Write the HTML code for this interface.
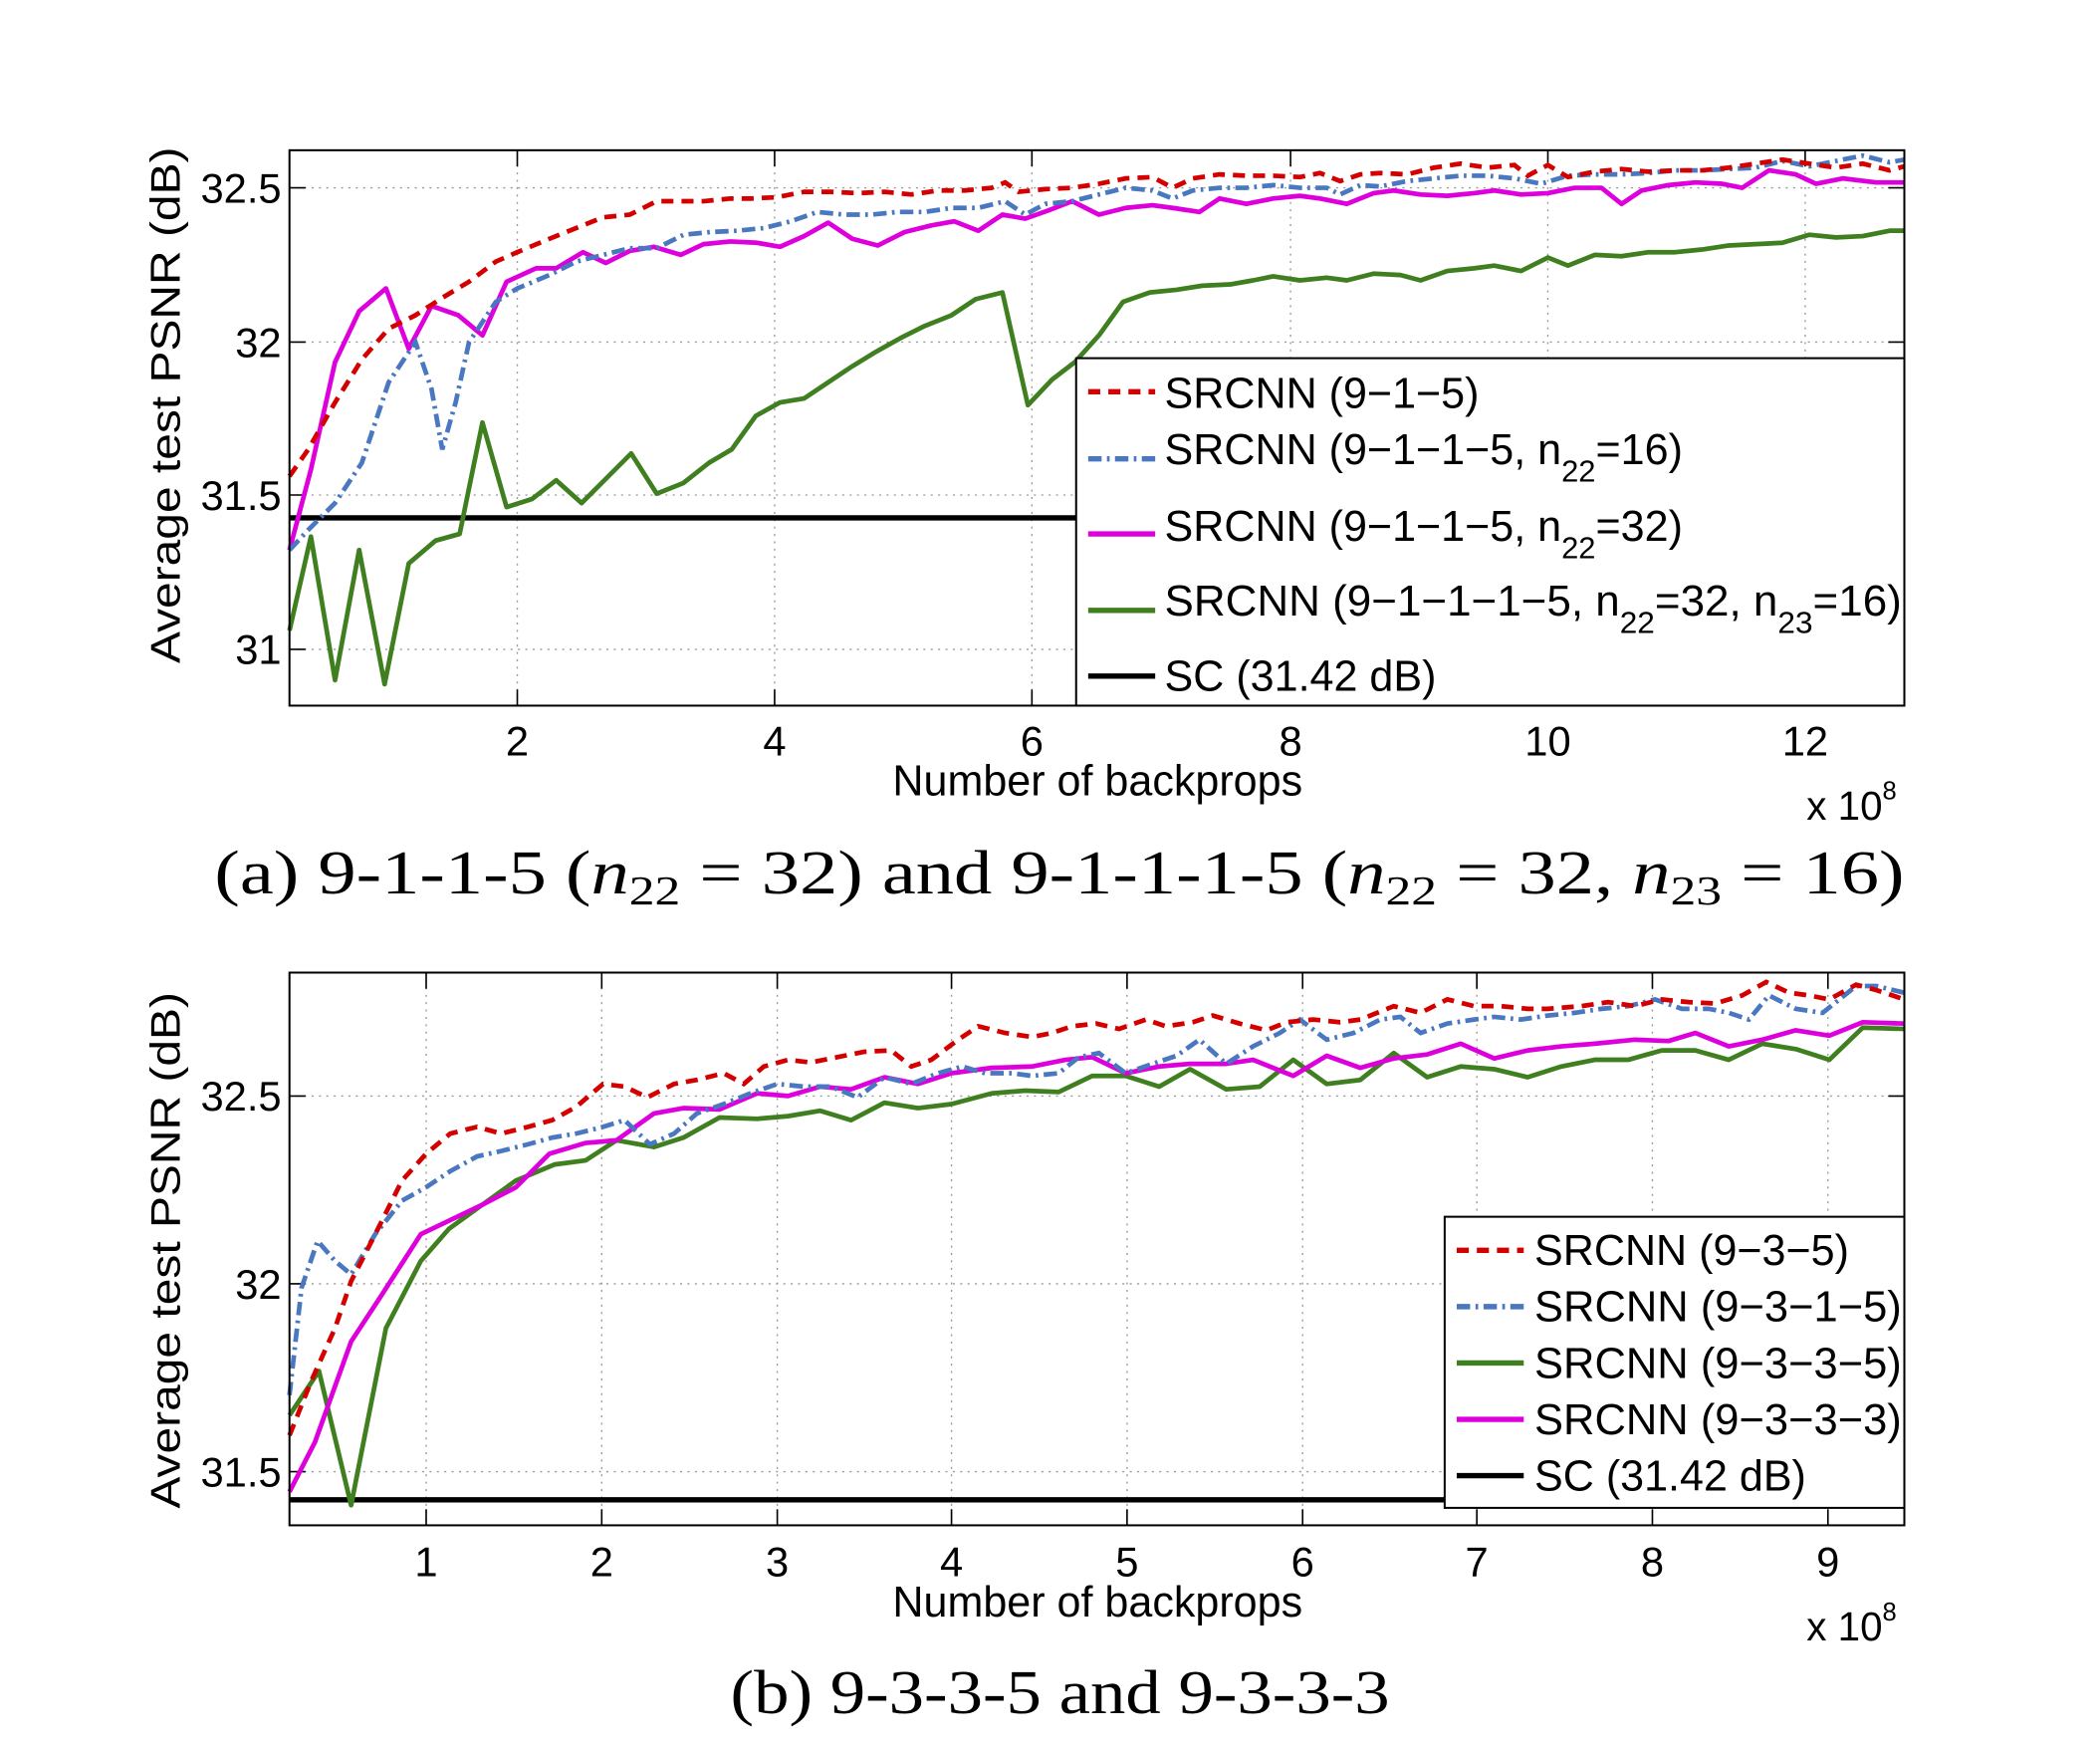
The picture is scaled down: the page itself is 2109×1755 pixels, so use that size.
<!DOCTYPE html>
<html><head><meta charset="utf-8"><style>
html,body{margin:0;padding:0;background:#fff}
svg{display:block}
text{font-family:"Liberation Sans",sans-serif;fill:#000}
.serif{font-family:"Liberation Serif",serif}
</style></head><body>
<svg width="2109" height="1755" viewBox="0 0 1567 1303" preserveAspectRatio="none" xmlns="http://www.w3.org/2000/svg">
<rect width="1567" height="1303" fill="#fff"/>
<!-- ============ PLOT A ============ -->
<g stroke="#999" stroke-width="1" stroke-dasharray="1.5,4" fill="none">
<line x1="216" y1="140" x2="1421" y2="140"/><line x1="216" y1="255" x2="1421" y2="255"/>
<line x1="216" y1="369" x2="1421" y2="369"/><line x1="216" y1="484" x2="1421" y2="484"/>
<line x1="386" y1="112" x2="386" y2="526"/><line x1="578" y1="112" x2="578" y2="526"/>
<line x1="770" y1="112" x2="770" y2="526"/><line x1="963" y1="112" x2="963" y2="526"/>
<line x1="1155" y1="112" x2="1155" y2="526"/><line x1="1347" y1="112" x2="1347" y2="526"/>
</g>
<g stroke="#000" stroke-width="1.2">
<line x1="386" y1="526" x2="386" y2="514"/><line x1="578" y1="526" x2="578" y2="514"/><line x1="770" y1="526" x2="770" y2="514"/><line x1="963" y1="526" x2="963" y2="514"/><line x1="1155" y1="526" x2="1155" y2="514"/><line x1="1347" y1="526" x2="1347" y2="514"/>
<line x1="386" y1="112" x2="386" y2="124"/><line x1="578" y1="112" x2="578" y2="124"/><line x1="770" y1="112" x2="770" y2="124"/><line x1="963" y1="112" x2="963" y2="124"/><line x1="1155" y1="112" x2="1155" y2="124"/><line x1="1347" y1="112" x2="1347" y2="124"/>
<line x1="216" y1="140" x2="228" y2="140"/><line x1="216" y1="255" x2="228" y2="255"/><line x1="216" y1="369" x2="228" y2="369"/><line x1="216" y1="484" x2="228" y2="484"/>
<line x1="1421" y1="140" x2="1409" y2="140"/><line x1="1421" y1="255" x2="1409" y2="255"/>
</g>
<line x1="216" y1="386" x2="803" y2="386" stroke="#000" stroke-width="4"/>
<polyline fill="none" stroke="#3f7f1f" stroke-width="3.5" stroke-linejoin="round" points="216,470 232,400 250,507 268,410 287,510 305,420 325,403 343,398 360,315 378,378 397,372 415,358 434,375 453,356 471,338 490,368 510,360 529,345 546,335 564,310 582,300 600,297 618,285 636,273 654,262 672,252 690,243 710,235 728,223 748,218 767,302 785,283 802,270 820,250 838,225 858,218 878,216 897,213 918,212 935,209 950,206 970,209 990,207 1005,209 1025,204 1045,205 1060,209 1080,202 1100,200 1115,198 1135,202 1155,192 1170,198 1190,190 1210,191 1230,188 1250,188 1270,186 1290,183 1310,182 1330,181 1350,175 1370,177 1390,176 1410,172 1421,172"/>
<polyline fill="none" stroke="#dd00dd" stroke-width="3.5" stroke-linejoin="round" points="216,410 232,350 250,270 268,232 288,215 305,260 322,228 342,235 360,250 378,210 400,200 415,200 435,188 452,196 470,187 488,184 508,190 525,182 545,180 565,181 582,184 600,176 618,166 636,178 655,183 675,173 695,168 712,165 730,172 748,160 765,163 782,157 800,150 820,160 840,155 860,153 875,155 895,158 910,148 930,152 950,148 970,146 985,148 1005,152 1025,144 1040,142 1060,145 1080,146 1100,144 1115,142 1135,145 1155,144 1175,140 1195,140 1210,152 1225,142 1245,138 1265,136 1285,137 1300,140 1320,127 1340,130 1355,137 1375,133 1400,136 1421,136"/>
<polyline fill="none" stroke="#4a78c0" stroke-width="3.5" stroke-dasharray="10,4,2,4" points="216,410 230,395 250,375 270,345 290,285 310,255 322,290 330,335 340,300 350,255 370,225 386,215 410,205 430,195 450,190 470,185 490,185 510,175 530,173 550,172 570,170 590,165 610,158 630,160 650,160 670,158 690,158 710,155 730,155 750,150 765,160 780,152 800,150 820,145 840,140 860,142 875,148 890,142 910,140 930,140 950,138 970,140 990,140 1000,145 1015,138 1030,139 1050,135 1070,133 1090,131 1110,131 1130,133 1150,137 1170,131 1190,130 1210,130 1230,129 1250,127 1270,127 1290,126 1310,125 1330,120 1350,124 1370,120 1390,116 1410,121 1421,119"/>
<polyline fill="none" stroke="#d40000" stroke-width="3.5" stroke-dasharray="9,6" points="216,355 230,335 250,300 270,268 290,245 310,235 330,222 350,210 370,195 386,188 410,178 430,170 450,162 470,160 490,150 510,150 525,150 545,148 560,148 580,147 600,143 620,143 640,144 660,143 680,145 700,142 720,142 740,140 750,136 760,143 780,141 800,140 820,137 840,133 860,132 875,140 890,133 910,130 930,131 950,131 970,132 985,129 1000,135 1015,130 1030,129 1050,130 1070,125 1090,122 1110,125 1130,123 1140,131 1155,123 1170,132 1190,128 1210,126 1230,128 1250,127 1270,127 1290,125 1310,122 1330,119 1350,122 1370,125 1390,122 1410,127 1421,124"/>
<rect x="216" y="112" width="1205" height="414" fill="none" stroke="#000" stroke-width="1.5"/>
<!-- legend a -->
<rect x="803" y="267" width="618" height="259" fill="#fff" stroke="#000" stroke-width="1.5"/>
<line x1="812" y1="292" x2="862" y2="292" stroke="#d40000" stroke-width="4" stroke-dasharray="9,6"/>
<line x1="812" y1="342" x2="862" y2="342" stroke="#4a78c0" stroke-width="4" stroke-dasharray="10,4,2,4"/>
<line x1="812" y1="398" x2="862" y2="398" stroke="#dd00dd" stroke-width="4"/>
<line x1="812" y1="455" x2="862" y2="455" stroke="#3f7f1f" stroke-width="4"/>
<line x1="812" y1="504" x2="862" y2="504" stroke="#000" stroke-width="4"/>
<g font-size="32">
<text x="869" y="304">SRCNN (9−1−5)</text>
<text x="869" y="346">SRCNN (9−1−1−5, n<tspan font-size="23" dy="13">22</tspan><tspan dy="-13">=16)</tspan></text>
<text x="869" y="403">SRCNN (9−1−1−5, n<tspan font-size="23" dy="13">22</tspan><tspan dy="-13">=32)</tspan></text>
<text x="869" y="459" textLength="550" lengthAdjust="spacingAndGlyphs">SRCNN (9−1−1−1−5, n<tspan font-size="23" dy="13">22</tspan><tspan dy="-13">=32, n</tspan><tspan font-size="23" dy="13">23</tspan><tspan dy="-13">=16)</tspan></text>
<text x="869" y="515">SC (31.42 dB)</text>
</g>
<g font-size="31" text-anchor="end">
<text x="210" y="151">32.5</text><text x="210" y="266">32</text><text x="210" y="380">31.5</text><text x="210" y="495">31</text>
</g>
<g font-size="31" text-anchor="middle">
<text x="386" y="563">2</text><text x="578" y="563">4</text><text x="770" y="563">6</text><text x="963" y="563">8</text><text x="1155" y="563">10</text><text x="1347" y="563">12</text>
<text x="819" y="593" font-size="32">Number of backprops</text>
</g>
<text x="1348" y="611" font-size="30">x 10<tspan font-size="19" dy="-15">8</tspan></text>
<text transform="translate(134,302) rotate(-90)" font-size="31" text-anchor="middle" textLength="385" lengthAdjust="spacingAndGlyphs">Average test PSNR (dB)</text>
<text class="serif" x="160" y="666" font-size="46" textLength="1261" lengthAdjust="spacingAndGlyphs">(a) 9-1-1-5 (<tspan font-style="italic">n</tspan><tspan font-size="31" dy="8">22</tspan><tspan dy="-8"> = 32) and 9-1-1-1-5 (</tspan><tspan font-style="italic">n</tspan><tspan font-size="31" dy="8">22</tspan><tspan dy="-8"> = 32, </tspan><tspan font-style="italic">n</tspan><tspan font-size="31" dy="8">23</tspan><tspan dy="-8"> = 16)</tspan></text>

<!-- ============ PLOT B ============ -->
<g stroke="#999" stroke-width="1" stroke-dasharray="1.5,4" fill="none">
<line x1="216" y1="817" x2="1421" y2="817"/><line x1="216" y1="957" x2="1421" y2="957"/><line x1="216" y1="1097" x2="1421" y2="1097"/>
<line x1="318" y1="725" x2="318" y2="1137"/><line x1="449" y1="725" x2="449" y2="1137"/><line x1="580" y1="725" x2="580" y2="1137"/><line x1="710" y1="725" x2="710" y2="1137"/><line x1="841" y1="725" x2="841" y2="1137"/><line x1="972" y1="725" x2="972" y2="1137"/><line x1="1102" y1="725" x2="1102" y2="1137"/><line x1="1233" y1="725" x2="1233" y2="1137"/><line x1="1364" y1="725" x2="1364" y2="1137"/>
</g>
<g stroke="#000" stroke-width="1.2">
<line x1="318" y1="1137" x2="318" y2="1125"/><line x1="449" y1="1137" x2="449" y2="1125"/><line x1="580" y1="1137" x2="580" y2="1125"/><line x1="710" y1="1137" x2="710" y2="1125"/><line x1="841" y1="1137" x2="841" y2="1125"/><line x1="972" y1="1137" x2="972" y2="1125"/><line x1="1102" y1="1137" x2="1102" y2="1125"/><line x1="1233" y1="1137" x2="1233" y2="1125"/><line x1="1364" y1="1137" x2="1364" y2="1125"/>
<line x1="318" y1="725" x2="318" y2="737"/><line x1="449" y1="725" x2="449" y2="737"/><line x1="580" y1="725" x2="580" y2="737"/><line x1="710" y1="725" x2="710" y2="737"/><line x1="841" y1="725" x2="841" y2="737"/><line x1="972" y1="725" x2="972" y2="737"/><line x1="1102" y1="725" x2="1102" y2="737"/><line x1="1233" y1="725" x2="1233" y2="737"/><line x1="1364" y1="725" x2="1364" y2="737"/>
<line x1="216" y1="817" x2="228" y2="817"/><line x1="216" y1="957" x2="228" y2="957"/><line x1="216" y1="1097" x2="228" y2="1097"/>
<line x1="1421" y1="817" x2="1409" y2="817"/>
</g>
<line x1="216" y1="1118" x2="1078" y2="1118" stroke="#000" stroke-width="4"/>
<polyline fill="none" stroke="#3f7f1f" stroke-width="3.5" stroke-linejoin="round" points="216,1055 238,1022 262,1122 288,990 314,940 335,916 360,898 385,880 414,868 437,865 460,850 488,855 510,848 537,833 565,834 588,832 612,828 635,835 660,822 685,826 710,823 740,815 765,813 790,814 815,802 840,802 865,810 888,797 915,812 940,810 965,790 990,808 1015,805 1040,785 1065,803 1090,795 1115,797 1140,803 1165,795 1190,790 1215,790 1240,783 1265,783 1290,790 1315,778 1340,782 1365,790 1390,766 1421,767"/>
<polyline fill="none" stroke="#dd00dd" stroke-width="3.5" stroke-linejoin="round" points="216,1112 235,1075 262,1000 285,965 314,920 335,910 360,898 385,885 410,860 437,852 460,850 488,830 510,826 537,827 565,815 588,817 612,810 635,812 660,803 685,808 710,800 740,796 770,795 795,790 815,788 840,800 865,795 888,793 915,793 935,790 965,802 990,787 1015,796 1040,789 1065,786 1090,778 1115,789 1140,783 1165,780 1190,778 1220,775 1245,776 1265,770 1290,780 1315,775 1340,768 1365,772 1390,762 1421,763"/>
<polyline fill="none" stroke="#4a78c0" stroke-width="3.5" stroke-dasharray="10,4,2,4" points="216,1040 225,960 237,925 250,940 262,950 280,920 300,895 318,885 336,873 356,862 374,858 394,853 412,848 430,845 450,840 466,835 485,853 503,845 520,830 540,823 560,815 580,808 600,810 620,810 640,818 660,803 680,808 700,800 718,795 735,800 755,800 770,802 790,800 805,788 820,785 840,800 860,793 878,787 895,775 915,793 935,780 955,770 970,760 990,775 1010,770 1030,760 1045,758 1060,770 1080,763 1100,760 1115,758 1135,760 1155,757 1175,755 1195,752 1215,750 1235,745 1255,752 1275,752 1290,755 1305,760 1320,742 1340,752 1360,755 1385,735 1400,735 1421,740"/>
<polyline fill="none" stroke="#d40000" stroke-width="3.5" stroke-dasharray="9,6" points="216,1070 232,1030 250,990 262,955 280,920 300,880 318,860 336,845 356,840 374,845 394,840 412,835 430,825 450,808 466,810 483,818 503,808 520,805 540,800 555,808 570,795 588,790 605,792 625,788 645,784 665,783 680,795 695,790 715,775 730,765 750,770 770,773 785,770 800,765 818,763 835,767 855,760 870,765 890,762 905,757 925,763 945,768 960,762 980,760 1000,762 1015,760 1040,750 1060,755 1080,745 1100,750 1120,750 1140,752 1155,752 1180,750 1200,747 1220,750 1240,745 1260,747 1280,748 1300,742 1318,732 1335,740 1350,742 1365,745 1385,734 1400,738 1421,745"/>
<rect x="216" y="725" width="1205" height="412" fill="none" stroke="#000" stroke-width="1.5"/>
<!-- legend b -->
<rect x="1078" y="907" width="343" height="217" fill="#fff" stroke="#000" stroke-width="1.5"/>
<line x1="1087" y1="932" x2="1137" y2="932" stroke="#d40000" stroke-width="4" stroke-dasharray="9,6"/>
<line x1="1087" y1="974" x2="1137" y2="974" stroke="#4a78c0" stroke-width="4" stroke-dasharray="10,4,2,4"/>
<line x1="1087" y1="1016" x2="1137" y2="1016" stroke="#3f7f1f" stroke-width="4"/>
<line x1="1087" y1="1058" x2="1137" y2="1058" stroke="#dd00dd" stroke-width="4"/>
<line x1="1087" y1="1100" x2="1137" y2="1100" stroke="#000" stroke-width="4"/>
<g font-size="32">
<text x="1145" y="943">SRCNN (9−3−5)</text>
<text x="1145" y="985" textLength="274" lengthAdjust="spacingAndGlyphs">SRCNN (9−3−1−5)</text>
<text x="1145" y="1027" textLength="274" lengthAdjust="spacingAndGlyphs">SRCNN (9−3−3−5)</text>
<text x="1145" y="1069" textLength="274" lengthAdjust="spacingAndGlyphs">SRCNN (9−3−3−3)</text>
<text x="1145" y="1111">SC (31.42 dB)</text>
</g>
<g font-size="31" text-anchor="end">
<text x="210" y="828">32.5</text><text x="210" y="968">32</text><text x="210" y="1108">31.5</text>
</g>
<g font-size="31" text-anchor="middle">
<text x="318" y="1175">1</text><text x="449" y="1175">2</text><text x="580" y="1175">3</text><text x="710" y="1175">4</text><text x="841" y="1175">5</text><text x="972" y="1175">6</text><text x="1102" y="1175">7</text><text x="1233" y="1175">8</text><text x="1364" y="1175">9</text>
<text x="819" y="1205" font-size="32">Number of backprops</text>
</g>
<text x="1348" y="1223" font-size="30">x 10<tspan font-size="19" dy="-15">8</tspan></text>
<text transform="translate(134,932) rotate(-90)" font-size="31" text-anchor="middle" textLength="385" lengthAdjust="spacingAndGlyphs">Average test PSNR (dB)</text>
<text class="serif" x="545" y="1277" font-size="46" textLength="492" lengthAdjust="spacingAndGlyphs">(b) 9-3-3-5 and 9-3-3-3</text>
</svg>
</body></html>
